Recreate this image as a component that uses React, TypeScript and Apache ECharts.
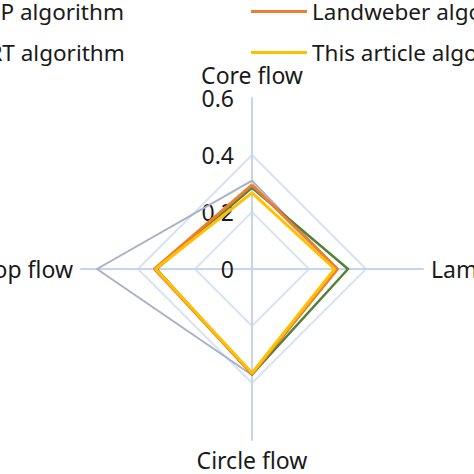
import React, { useEffect, useRef } from "react";
import * as echarts from "echarts";

const indicatorNames = ["Core flow", "Drop flow", "Circle flow", "Laminar flow"];
const axisMax = 0.6;

const seriesNames = ["LBP algorithm", "ART algorithm", "Landweber algorithm", "This article algorithm"];
const lbpValues = [0.31, 0.544, 0.372, 0.3];
const artValues = [0.285, 0.335, 0.37, 0.337];
const landweberValues = [0.295, 0.342, 0.368, 0.3];
const thisArticleValues = [0.267, 0.338, 0.365, 0.29];

const colors = ["#a9b1c4", "#548235", "#ed7d31", "#ffc000"];
const widths = [2, 2.5, 3, 3];

const FONT = "Noto Sans";

const App: React.FC = () => {
  const chartRef = useRef<HTMLDivElement>(null);

  useEffect(() => {
    const chart = echarts.init(chartRef.current!, undefined, { renderer: "svg" });

    const allValues = [lbpValues, artValues, landweberValues, thisArticleValues];

    const legendBase = {
      orient: "vertical",
      top: -6,
      icon: "rect",
      itemWidth: 56,
      itemHeight: 3,
      itemGap: 16,
      textStyle: { fontSize: 22.5, fontFamily: FONT, color: "#1a1a1a", lineHeight: 25 },
    };

    const options = {
      animation: false,
      backgroundColor: "#ffffff",
      legend: [
        { ...legendBase, left: 8, data: [seriesNames[0], seriesNames[1]] },
        { ...legendBase, left: 346, data: [seriesNames[2], seriesNames[3]] },
      ],
      radar: {
        center: [352, 269],
        radius: 171,
        startAngle: 90,
        shape: "polygon",
        splitNumber: 3,
        nameGap: 8,
        axisName: { color: "#1a1a1a", fontSize: 23, fontFamily: FONT },
        indicator: indicatorNames.map((name, i) => ({
          name,
          min: 0,
          max: axisMax,
          axisLabel: { show: i === 0 },
        })),
        axisLine: { lineStyle: { color: "#c3d6ec", width: 2 } },
        splitLine: {
          lineStyle: {
            color: ["#d9e4f1", "#d9e4f1", "#d9e4f1", "rgba(0,0,0,0)"],
            width: 2,
          },
        },
        splitArea: { show: false },
        axisTick: { show: false },
        axisLabel: {
          show: true,
          margin: 18,
          fontSize: 23,
          fontFamily: FONT,
          color: "#1a1a1a",
          formatter: (v: number) => String(Math.round(v * 10) / 10),
        },
      },
      series: seriesNames.map((name, i) => ({
        type: "radar",
        name,
        symbol: "none",
        itemStyle: { color: colors[i] },
        lineStyle: { color: colors[i], width: widths[i] },
        data: [{ name, value: allValues[i] }],
      })),
    };

    chart.setOption(options as any);

    return () => {
      chart.dispose();
    };
  }, []);

  return (
    <div
      style={{
        position: "fixed",
        left: 0,
        top: 0,
        width: 474,
        height: 474,
        overflow: "hidden",
        background: "#fff",
      }}
    >
      <div
        ref={chartRef}
        style={{ position: "absolute", left: -100, top: 0, width: 724, height: 474 }}
      ></div>
    </div>
  );
};

export default App;
